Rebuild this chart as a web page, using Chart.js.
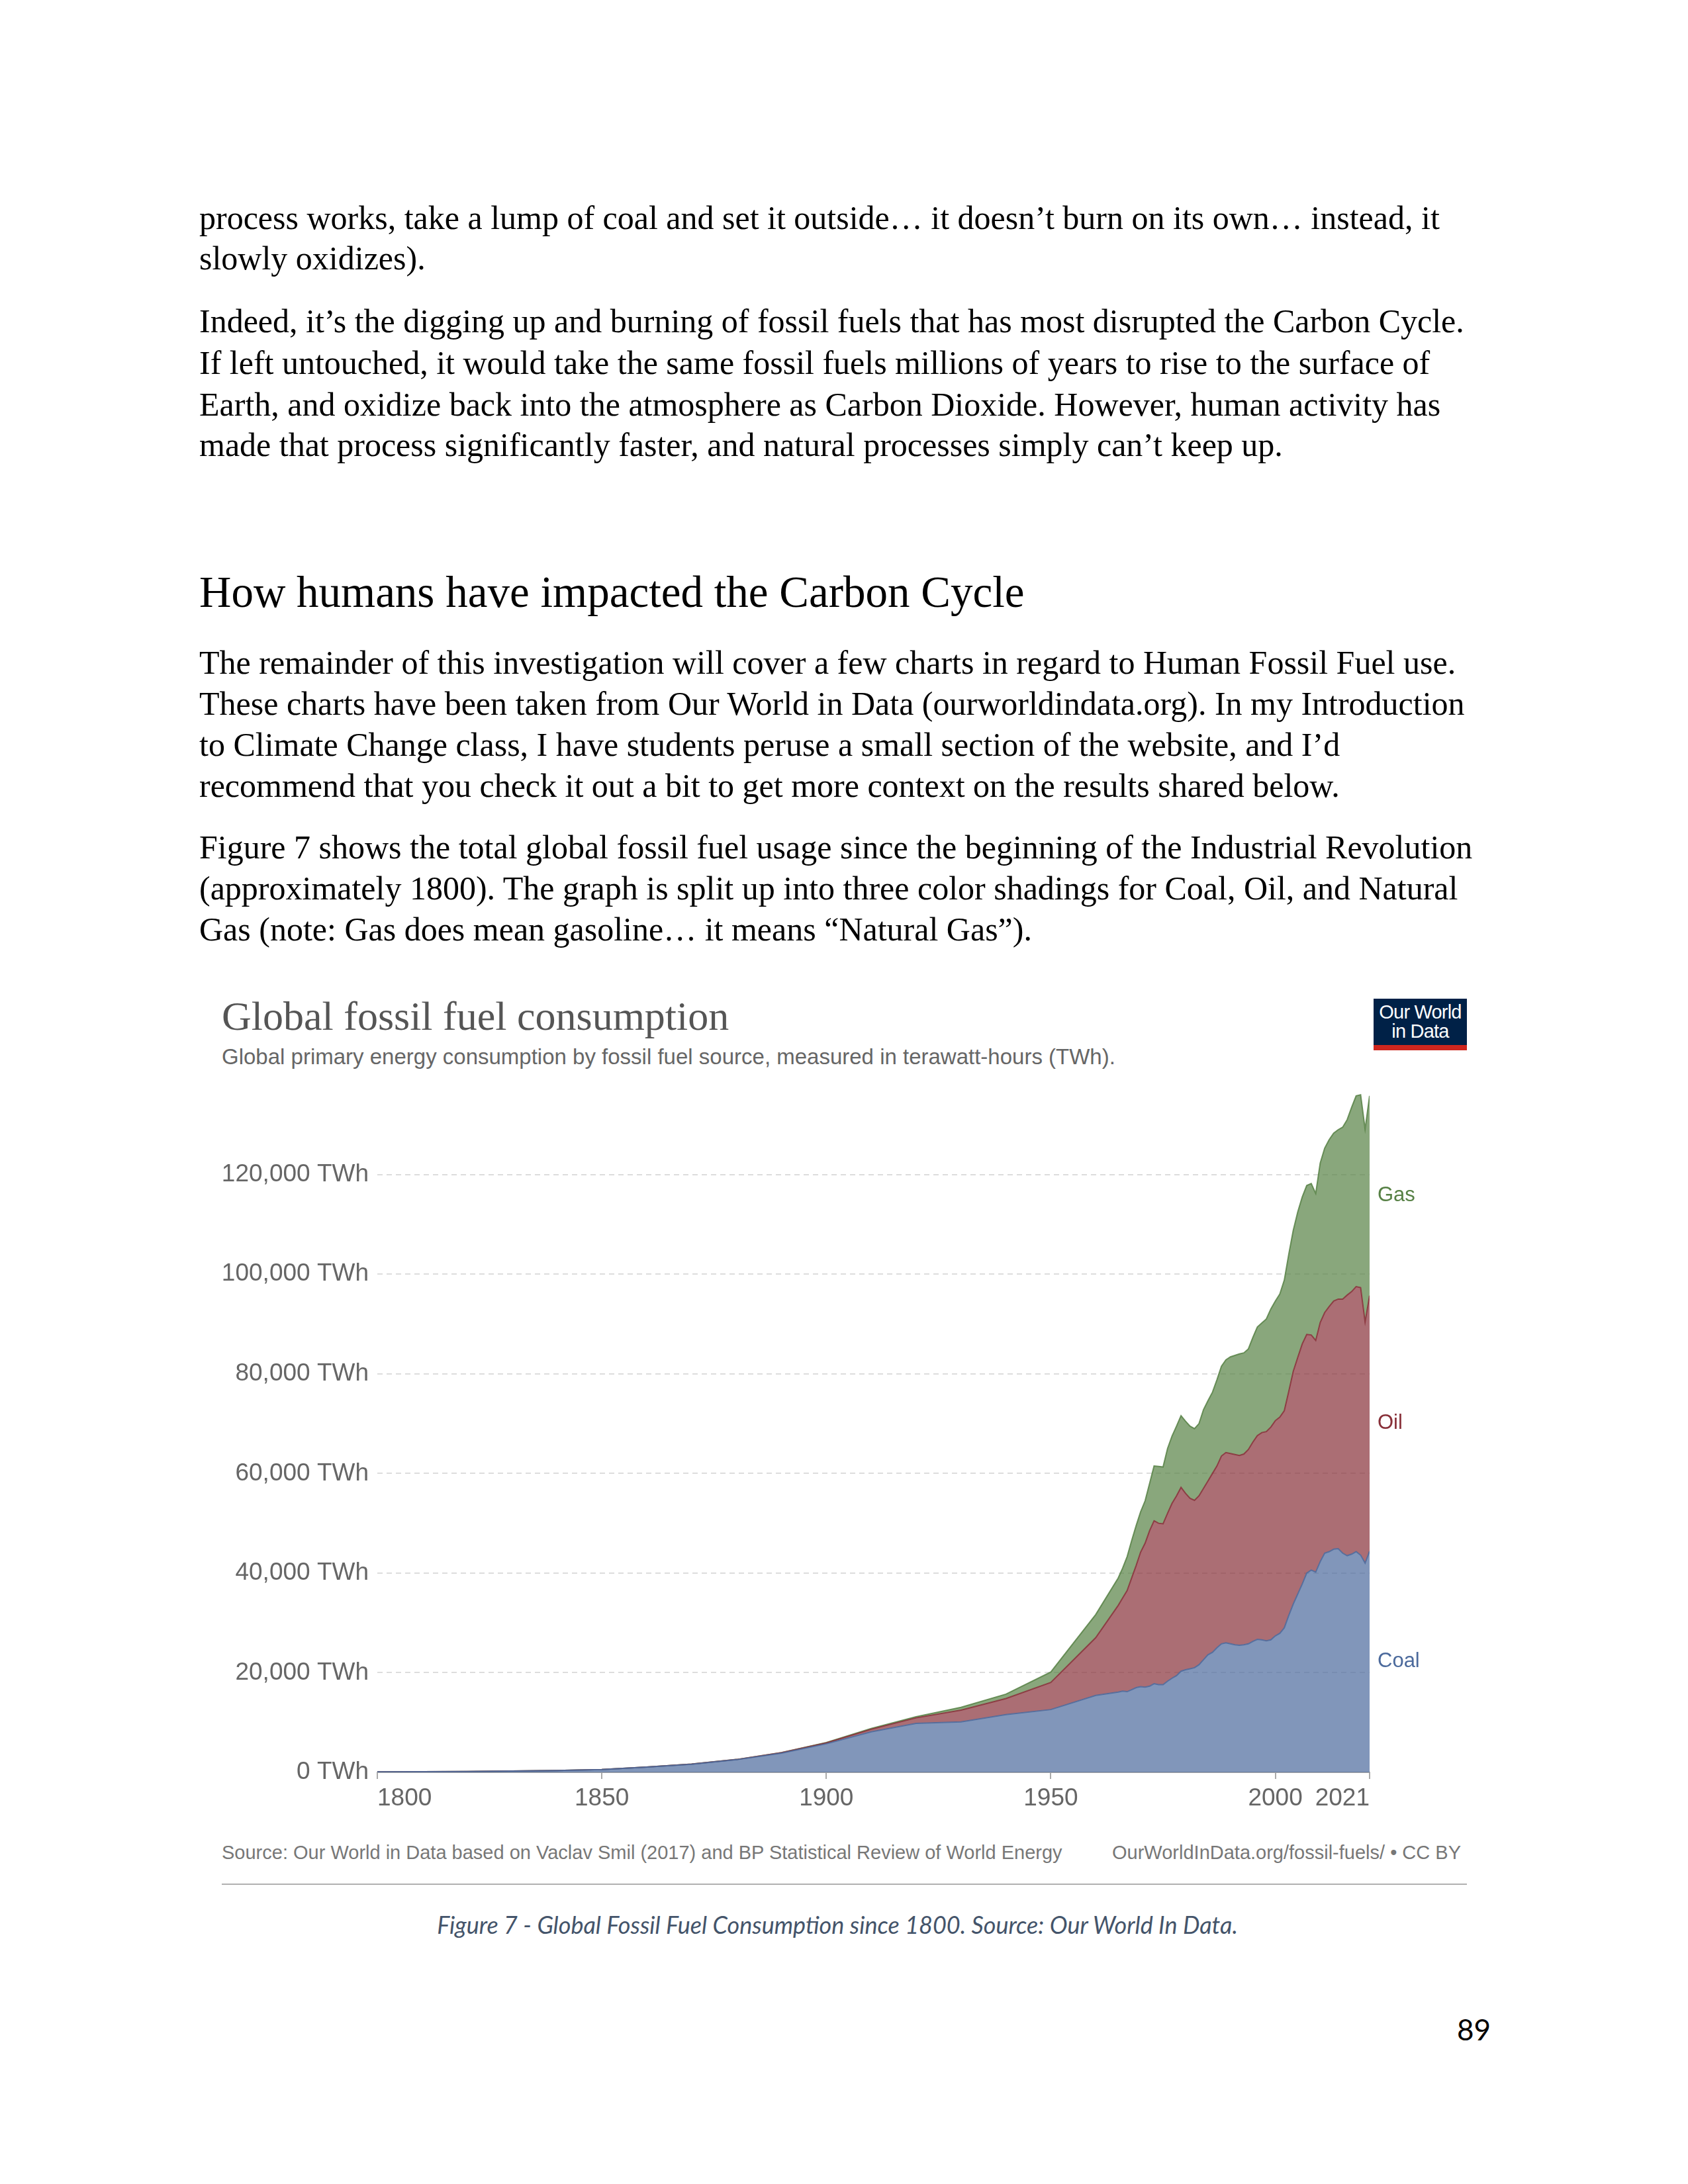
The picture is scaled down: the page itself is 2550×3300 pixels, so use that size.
<!DOCTYPE html>
<html>
<head>
<meta charset="utf-8">
<script src="https://cdn.jsdelivr.net/npm/chart.js@4.4.1/dist/chart.umd.min.js"></script>
<style>
  body { margin: 0; background: #fff; }
  #page { position: relative; width: 2550px; height: 3300px; background: #fff; overflow: hidden; }
  .t { position: absolute; left: 301px; font-family: "Liberation Serif", serif; font-size: 50px; line-height: 62px; color: #000; white-space: nowrap; }
  .h { position: absolute; left: 301px; font-family: "Liberation Serif", serif; font-size: 67px; line-height: 67px; color: #000; white-space: nowrap; }
  .ct { position: absolute; left: 335px; top: 1504px; font-family: "Liberation Serif", serif; font-size: 62px; line-height: 62px; color: #555; white-space: nowrap; }
  .cs { position: absolute; left: 335px; top: 1580px; font-family: "Liberation Sans", sans-serif; font-size: 33px; line-height: 33px; color: #666; white-space: nowrap; }
  .src { position: absolute; top: 2785px; font-family: "Liberation Sans", sans-serif; font-size: 29px; line-height: 29px; color: #777; white-space: nowrap; }
  #logo { position: absolute; left: 2075px; top: 1509px; width: 141px; background: #002147; border-bottom: 8px solid #ce261e;
          color: #fff; font-family: "Liberation Sans", sans-serif; font-size: 29px; line-height: 29px; text-align: center; padding-top: 6px; height: 64px; letter-spacing: -0.8px; }
  #rule { position: absolute; left: 335px; top: 2846px; width: 1881px; height: 2px; background: #b0b0b0; }
  #cap { position: absolute; left: 0; width: 2530px; top: 2890px; text-align: center; font-family: Lato, sans-serif; font-style: italic; font-size: 36px; line-height: 36px; color: #44546A; white-space: nowrap; }
  #pnum { position: absolute; right: 298px; top: 3044px; font-family: Lato, sans-serif; font-size: 44px; line-height: 44px; color: #000; }
  #chart { position: absolute; left: 330px; top: 1603px; }
</style>
</head>
<body>
<div id="page">
  <div class="t" style="top:298px">process works, take a lump of coal and set it outside… it doesn’t burn on its own… instead, it</div>
  <div class="t" style="top:359px">slowly oxidizes).</div>
  <div class="t" style="top:454px">Indeed, it’s the digging up and burning of fossil fuels that has most disrupted the Carbon Cycle.</div>
  <div class="t" style="top:517px">If left untouched, it would take the same fossil fuels millions of years to rise to the surface of</div>
  <div class="t" style="top:580px">Earth, and oxidize back into the atmosphere as Carbon Dioxide. However, human activity has</div>
  <div class="t" style="top:641px">made that process significantly faster, and natural processes simply can’t keep up.</div>
  <div class="h" style="top:861px">How humans have impacted the Carbon Cycle</div>
  <div class="t" style="top:970px">The remainder of this investigation will cover a few charts in regard to Human Fossil Fuel use.</div>
  <div class="t" style="top:1032px">These charts have been taken from Our World in Data (ourworldindata.org). In my Introduction</div>
  <div class="t" style="top:1094px">to Climate Change class, I have students peruse a small section of the website, and I’d</div>
  <div class="t" style="top:1156px">recommend that you check it out a bit to get more context on the results shared below.</div>
  <div class="t" style="top:1249px">Figure 7 shows the total global fossil fuel usage since the beginning of the Industrial Revolution</div>
  <div class="t" style="top:1311px">(approximately 1800). The graph is split up into three color shadings for Coal, Oil, and Natural</div>
  <div class="t" style="top:1373px">Gas (note: Gas does mean gasoline… it means “Natural Gas”).</div>

  <div class="ct">Global fossil fuel consumption</div>
  <div class="cs">Global primary energy consumption by fossil fuel source, measured in terawatt-hours (TWh).</div>
  <div id="logo">Our World<br>in Data</div>

  <canvas id="chart" width="1920" height="1160"></canvas>

  <div class="src" style="left:335px">Source: Our World in Data based on Vaclav Smil (2017) and BP Statistical Review of World Energy</div>
  <div class="src" style="right:343px">OurWorldInData.org/fossil-fuels/ • CC BY</div>
  <div id="rule"></div>
  <div id="cap">Figure 7 - Global Fossil Fuel Consumption since 1800. Source: Our World In Data.</div>
  <div id="pnum">89</div>
</div>
<script>
// years: decadal before 1965, annual after
const years = [1800, 1810, 1820, 1830, 1840, 1850, 1860, 1870, 1880, 1890, 1900, 1910, 1920, 1930, 1940, 1950, 1960,
  1965, 1966, 1967, 1968, 1969, 1970, 1971, 1972, 1973, 1974, 1975, 1976, 1977, 1978, 1979,
  1980, 1981, 1982, 1983, 1984, 1985, 1986, 1987, 1988, 1989, 1990, 1991, 1992, 1993, 1994,
  1995, 1996, 1997, 1998, 1999, 2000, 2001, 2002, 2003, 2004, 2005, 2006, 2007, 2008, 2009,
  2010, 2011, 2012, 2013, 2014, 2015, 2016, 2017, 2018, 2019, 2020, 2021];

// TWh
const coal = [97, 128, 153, 264, 356, 569, 1061, 1642, 2542, 3856, 5728, 8128, 9833, 10125, 11586, 12603, 15442,
  16100, 16300, 16200, 16600, 17000, 17200, 17100, 17300, 17800, 17600, 17600, 18300, 18900, 19400, 20300,
  20600, 20800, 21000, 21600, 22600, 23600, 24100, 25000, 25800, 26000, 25800, 25600, 25500, 25600, 25800,
  26300, 26700, 26600, 26400, 26600, 27400, 27900, 29000, 31500, 33800, 35800, 37800, 40000, 40600, 40200,
  42300, 44000, 44300, 44800, 44900, 44000, 43500, 43800, 44300, 43600, 42000, 44400];

const oil = [0, 0, 0, 0, 0, 0, 0, 6, 33, 86, 181, 525, 1111, 2372, 3233, 5444, 11591,
  17400, 18700, 20300, 22400, 24500, 27000, 28900, 31200, 32700, 32400, 32300, 33700, 35100, 36100, 36900,
  35400, 34200, 33600, 33900, 34400, 34900, 35900, 36500, 37700, 38200, 38200, 38200, 38100, 38300, 39000,
  40000, 40900, 41600, 42000, 42700, 43200, 43400, 43600, 45000, 46700, 47500, 48200, 47900, 47200, 46500,
  48000, 48300, 49200, 49800, 50100, 51000, 52300, 52700, 53200, 53700, 48400, 51300];

const gas = [0, 0, 0, 0, 0, 0, 0, 0, 0, 0, 64, 142, 233, 560, 875, 2092, 4640,
  5500, 6000, 6800, 7500, 8000, 8100, 8500, 9500, 11000, 11400, 11400, 13000, 13500, 14000, 14400,
  14500, 14500, 14400, 14500, 15800, 16100, 16300, 17300, 18000, 18600, 19400, 19900, 20400, 20300, 20200,
  21000, 21800, 22000, 22600, 23700, 24000, 24700, 26200, 27500, 28300, 29200, 29500, 29900, 30400, 29500,
  32000, 33000, 33500, 33700, 34000, 34500, 35200, 37000, 38300, 38700, 38700, 40100];

const xTicks = [1800, 1850, 1900, 1950, 2000, 2021];
const yTicks = [0, 20000, 40000, 60000, 80000, 100000, 120000];

Chart.defaults.font.family = '"Liberation Sans", Arial, sans-serif';

function series(label, values, rgb, fill) {
  return {
    label: label,
    data: years.map((y, i) => ({ x: y, y: values[i] })),
    backgroundColor: 'rgba(' + rgb + ',0.7)',
    borderColor: 'rgba(' + rgb + ',0.85)',
    labelColor: 'rgb(' + rgb + ')',
    borderWidth: 2,
    pointRadius: 0,
    tension: 0,
    fill: fill
  };
}

// names at the right end, centred in each band
const endLabels = {
  id: 'endLabels',
  afterDraw(chart) {
    const { ctx, chartArea, scales } = chart;
    const last = years.length - 1;
    let base = 0;
    ctx.save();
    ctx.font = '31px "Liberation Sans"';
    ctx.textBaseline = 'middle';
    chart.data.datasets.forEach(ds => {
      const v = ds.data[last].y;
      ctx.fillStyle = ds.labelColor;
      ctx.fillText(ds.label, chartArea.right + 12, scales.y.getPixelForValue(base + v / 2));
      base += v;
    });
    ctx.restore();
  }
};

new Chart(document.getElementById('chart'), {
  type: 'line',
  data: {
    datasets: [
      series('Coal', coal, '76,106,156', 'origin'),
      series('Oil', oil, '136,48,57', '-1'),
      series('Gas', gas, '87,129,69', '-1')
    ]
  },
  options: {
    responsive: false,
    animation: false,
    layout: { padding: { left: 0, right: 181, top: 40, bottom: 0 } },
    plugins: { legend: { display: false }, tooltip: { enabled: false } },
    scales: {
      x: {
        type: 'linear',
        min: 1800,
        max: 2021,
        afterBuildTicks: s => { s.ticks = xTicks.map(v => ({ value: v })); },
        afterFit: s => { s.height = 85; },
        ticks: { align: 'inner', color: '#666', font: { size: 37 }, padding: 8, maxRotation: 0, callback: v => String(v) },
        grid: { drawOnChartArea: false, tickLength: 10, color: '#aaa', lineWidth: 2 },
        border: { color: '#aaa', width: 2 }
      },
      y: {
        stacked: true,
        min: 0,
        max: 137500,
        afterBuildTicks: s => { s.ticks = yTicks.map(v => ({ value: v })); },
        afterFit: s => { s.width = 240; },
        ticks: { color: '#666', font: { size: 37 }, padding: 13, callback: v => v.toLocaleString('en-US') + ' TWh' },
        grid: { drawTicks: false, color: '#ddd', lineWidth: 2 },
        border: { display: false, dash: [8, 6] }
      }
    }
  },
  plugins: [endLabels]
});
</script>
</body>
</html>
